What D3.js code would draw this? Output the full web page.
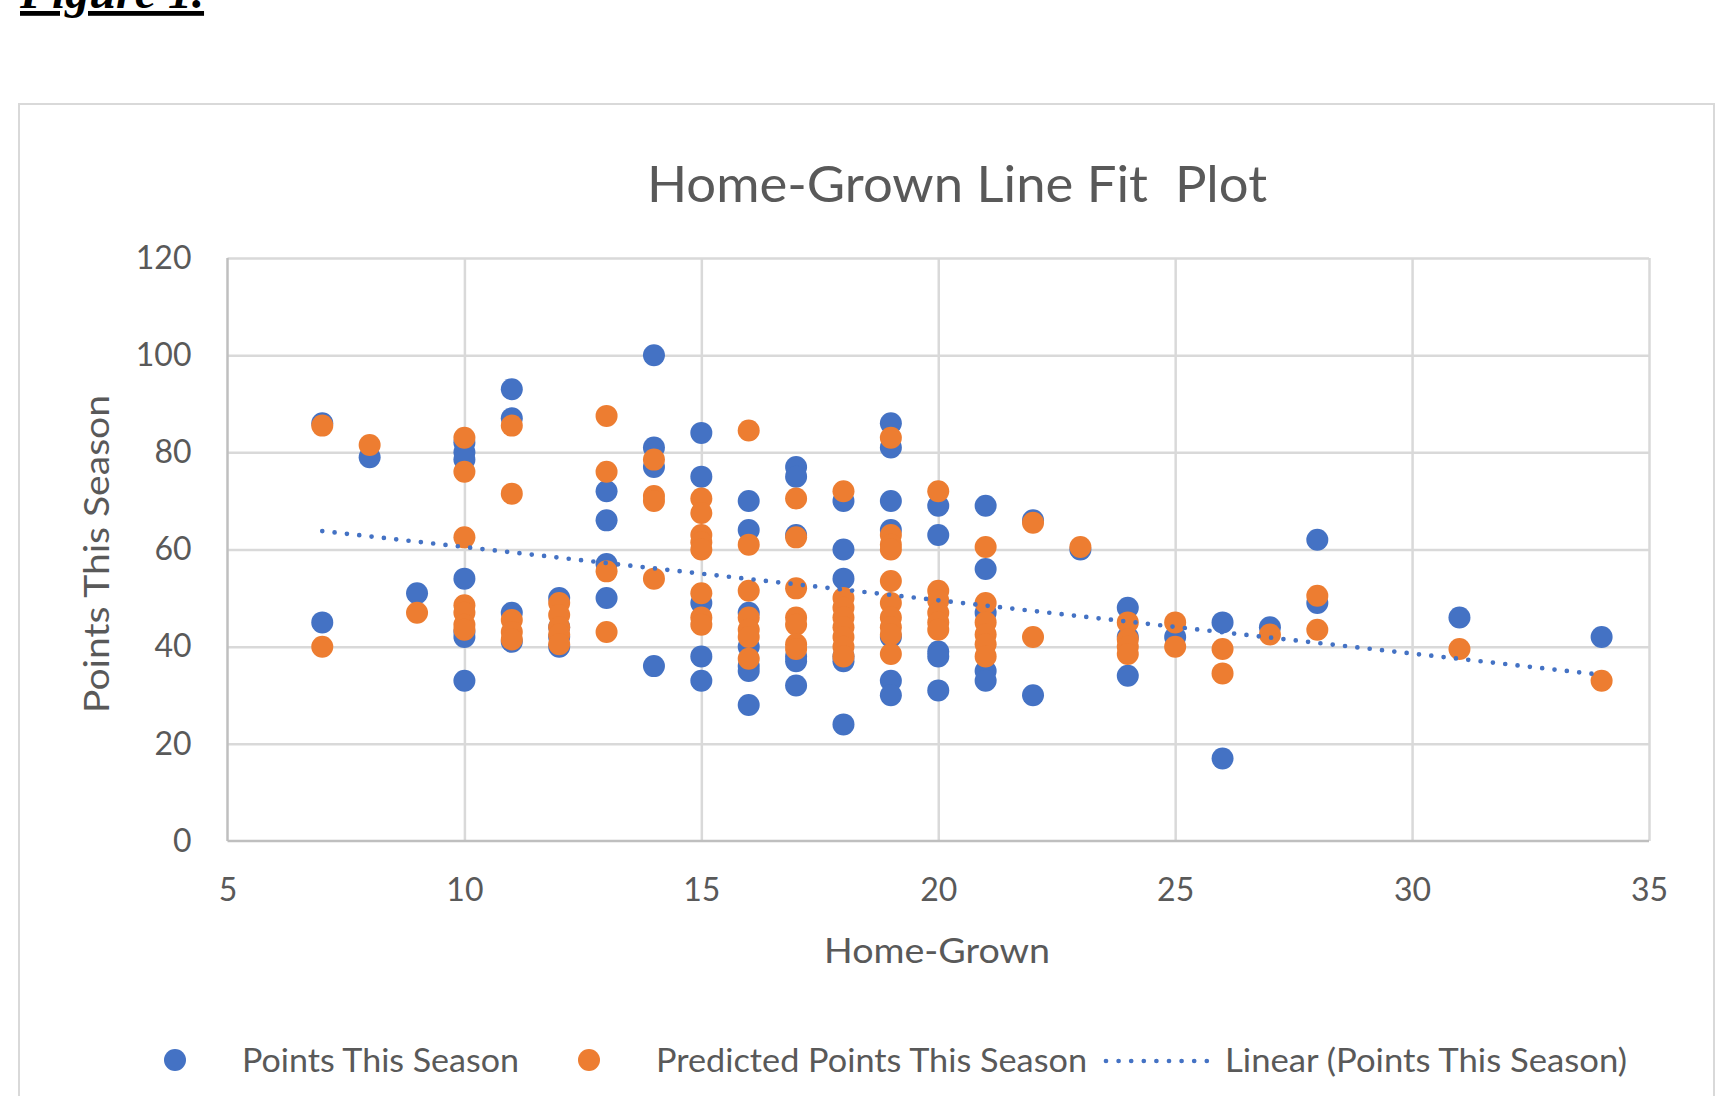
<!DOCTYPE html>
<html>
<head>
<meta charset="utf-8">
<script src="https://cdn.jsdelivr.net/npm/d3@7"></script>
<style>
  body { margin: 0; background: #fff; }
  text { font-family: Lato, "Open Sans", sans-serif; fill: #595959; }
</style>
</head>
<body>
<svg id="chart" width="1733" height="1096"></svg>
<script>
// values
const xTicks = [5, 10, 15, 20, 25, 30, 35];
const yTicks = [0, 20, 40, 60, 80, 100, 120];

// Points This Season (blue)
const actualHomeGrown = [7, 7, 8, 9,
  10, 10, 10, 10, 10, 10, 10,
  11, 11, 11, 11,
  12, 12, 12, 12,
  13, 13, 13, 13,
  14, 14, 14, 14,
  15, 15, 15, 15, 15,
  16, 16, 16, 16, 16, 16, 16,
  17, 17, 17, 17, 17, 17,
  18, 18, 18, 18, 18, 18,
  19, 19, 19, 19, 19, 19, 19,
  20, 20, 20, 20, 20,
  21, 21, 21, 21, 21,
  22, 22, 23, 24, 24, 24, 25, 26, 26, 27, 28, 28, 31, 34];
const actualPoints = [86, 45, 79, 51,
  82, 80, 78.5, 54, 43, 42, 33,
  93, 87, 47, 41,
  50, 44, 42, 40,
  72, 66, 57, 50,
  100, 81, 77, 36,
  84, 75, 49, 38, 33,
  70, 64, 47, 40, 36, 35, 28,
  77, 75, 63, 38, 37, 32,
  70, 60, 54, 38, 37, 24,
  86, 81, 70, 64, 42, 33, 30,
  69, 63, 39, 38, 31,
  69, 56, 47, 35, 33,
  66, 30, 60, 48, 42, 34, 42, 45, 17, 44, 62, 49, 46, 42];

// Predicted Points This Season (orange)
const predHomeGrown = [7, 7, 8, 9,
  10, 10, 10, 10, 10, 10, 10,
  11, 11, 11, 11, 11,
  12, 12, 12, 12, 12,
  13, 13, 13, 13,
  14, 14, 14, 14,
  15, 15, 15, 15, 15, 15, 15, 15,
  16, 16, 16, 16, 16, 16, 16,
  17, 17, 17, 17, 17, 17, 17,
  18, 18, 18, 18, 18, 18, 18, 18,
  19, 19, 19, 19, 19, 19, 19, 19, 19, 19,
  20, 20, 20, 20, 20, 20,
  21, 21, 21, 21, 21, 21,
  22, 22, 23, 24, 24, 24, 24, 25, 25, 26, 26, 27, 28, 28, 31, 34];
const predPoints = [85.5, 40, 81.5, 47,
  83, 76, 62.5, 48.5, 47, 44.5, 43.5,
  85.5, 71.5, 45.5, 43, 41.5,
  49, 46.5, 44, 42.5, 40.5,
  87.5, 76, 55.5, 43,
  78.5, 71, 70, 54,
  70.5, 67.5, 63, 61.5, 60, 51, 46, 44.5,
  84.5, 61, 51.5, 46, 43.5, 42, 37.5,
  70.5, 62.5, 52, 46, 44.5, 40.5, 39.5,
  72, 50, 48, 46, 44, 42, 40, 38,
  83, 63, 61, 60, 53.5, 49, 46, 44, 42.5, 38.5,
  72, 51.5, 49.5, 47, 45, 43.5,
  60.5, 49, 45, 42.5, 40.5, 38,
  65.5, 42, 60.5, 45, 41.5, 40, 38.5, 45, 40, 39.5, 34.5, 42.5, 50.5, 43.5, 39.5, 33];

// Linear trend of Points This Season, ends
const trendHomeGrown = [7, 34];
const trendPoints = [63.8, 34.2];

const legendLabels = ['Points This Season', 'Predicted Points This Season', 'Linear (Points This Season)'];

const BLUE = '#4472C4';
const ORANGE = '#ED7D31';

const svg = d3.select('#chart');
svg.append('rect').attr('width', 1733).attr('height', 1096).attr('fill', '#fff');

// document caption, cut off at the top
svg.append('text')
  .attr('x', 20).attr('y', 8)
  .style('font-family', '"Liberation Serif", "DejaVu Serif", serif')
  .style('font-style', 'italic').style('font-weight', 'bold')
  .style('font-size', '48px').style('fill', '#000')
  .style('text-decoration', 'underline')
  .text('Figure 1.');

// chart frame
svg.append('rect')
  .attr('x', 19).attr('y', 104).attr('width', 1695).attr('height', 1010)
  .attr('fill', '#fff').attr('stroke', '#D9D9D9').attr('stroke-width', 2);

const x = d3.scaleLinear().domain([5, 35]).range([227.5, 1649]);
const y = d3.scaleLinear().domain([0, 120]).range([841, 258]);

// gridlines
svg.append('g')
  .attr('transform', `translate(0,${y(0)})`)
  .call(d3.axisBottom(x).tickValues(xTicks.slice(1)).tickSize(-(y(0) - y(120))).tickFormat(''))
  .call(g => g.select('.domain').remove())
  .call(g => g.selectAll('line').attr('stroke', '#D9D9D9').attr('stroke-width', 2.5));

svg.append('g')
  .attr('transform', `translate(${x(5)},0)`)
  .call(d3.axisLeft(y).tickValues(yTicks.slice(1)).tickSize(-(x(35) - x(5))).tickFormat(''))
  .call(g => g.select('.domain').remove())
  .call(g => g.selectAll('line').attr('stroke', '#D9D9D9').attr('stroke-width', 2.5));

// axis lines
svg.append('line')
  .attr('x1', x(5)).attr('x2', x(35)).attr('y1', y(0)).attr('y2', y(0))
  .attr('stroke', '#BFBFBF').attr('stroke-width', 2.5);
svg.append('line')
  .attr('x1', x(5)).attr('x2', x(5)).attr('y1', y(0)).attr('y2', y(120))
  .attr('stroke', '#BFBFBF').attr('stroke-width', 2.5);

// tick labels
const xAxis = svg.append('g')
  .attr('transform', `translate(0,${y(0)})`)
  .call(d3.axisBottom(x).tickValues(xTicks).tickSize(0).tickPadding(37));
xAxis.select('.domain').remove();
xAxis.selectAll('text').style('font-size', '32px').style('font-family', 'Lato').attr('fill', '#595959');

const yAxis = svg.append('g')
  .attr('transform', `translate(${x(5)},0)`)
  .call(d3.axisLeft(y).tickValues(yTicks).tickSize(0).tickPadding(36));
yAxis.select('.domain').remove();
yAxis.selectAll('text').style('font-size', '32px').style('font-family', 'Lato').attr('fill', '#595959');

// title and axis titles
svg.append('text')
  .attr('x', 957).attr('y', 202).attr('text-anchor', 'middle')
  .attr('textLength', 620).attr('lengthAdjust', 'spacingAndGlyphs')
  .style('font-size', '50px').style('white-space', 'pre')
  .text('Home-Grown Line Fit  Plot');

svg.append('text')
  .attr('x', 937).attr('y', 963).attr('text-anchor', 'middle')
  .attr('textLength', 226).attr('lengthAdjust', 'spacingAndGlyphs')
  .style('font-size', '35px')
  .text('Home-Grown');

svg.append('text')
  .attr('transform', 'translate(109,554) rotate(-90)')
  .attr('text-anchor', 'middle')
  .attr('textLength', 318).attr('lengthAdjust', 'spacingAndGlyphs')
  .style('font-size', '34px')
  .text('Points This Season');

// series
const plot = svg.append('g');

plot.selectAll('.actual')
  .data(actualHomeGrown.map((d, i) => [d, actualPoints[i]]))
  .enter()
  .append('circle')
  .classed('actual', true)
  .attr('cx', d => x(d[0]))
  .attr('cy', d => y(d[1]))
  .attr('r', 11)
  .attr('fill', BLUE);

plot.selectAll('.pred')
  .data(predHomeGrown.map((d, i) => [d, predPoints[i]]))
  .enter()
  .append('circle')
  .classed('pred', true)
  .attr('cx', d => x(d[0]))
  .attr('cy', d => y(d[1]))
  .attr('r', 11)
  .attr('fill', ORANGE);

const trendLine = d3.line().x(d => x(d[0])).y(d => y(d[1]));
plot.append('path')
  .datum(trendHomeGrown.map((d, i) => [d, trendPoints[i]]))
  .attr('d', trendLine)
  .attr('fill', 'none')
  .attr('stroke', BLUE)
  .attr('stroke-width', 4.7)
  .attr('stroke-linecap', 'round')
  .attr('stroke-dasharray', '0 12.4');

// legend
const legend = svg.append('g');
const legendY = 1060;

legend.append('circle').attr('cx', 175).attr('cy', legendY).attr('r', 11).attr('fill', BLUE);
legend.append('text').attr('x', 242).attr('y', 1072)
  .attr('textLength', 277).attr('lengthAdjust', 'spacingAndGlyphs')
  .style('font-size', '32px').text(legendLabels[0]);

legend.append('circle').attr('cx', 589).attr('cy', legendY).attr('r', 11).attr('fill', ORANGE);
legend.append('text').attr('x', 656).attr('y', 1072)
  .attr('textLength', 431).attr('lengthAdjust', 'spacingAndGlyphs')
  .style('font-size', '32px').text(legendLabels[1]);

legend.append('line')
  .attr('x1', 1106).attr('x2', 1207).attr('y1', legendY + 1).attr('y2', legendY + 1)
  .attr('stroke', BLUE).attr('stroke-width', 4.7)
  .attr('stroke-linecap', 'round').attr('stroke-dasharray', '0 12.6');
legend.append('text').attr('x', 1225).attr('y', 1072)
  .attr('textLength', 402).attr('lengthAdjust', 'spacingAndGlyphs')
  .style('font-size', '32px').text(legendLabels[2]);
</script>
</body>
</html>
